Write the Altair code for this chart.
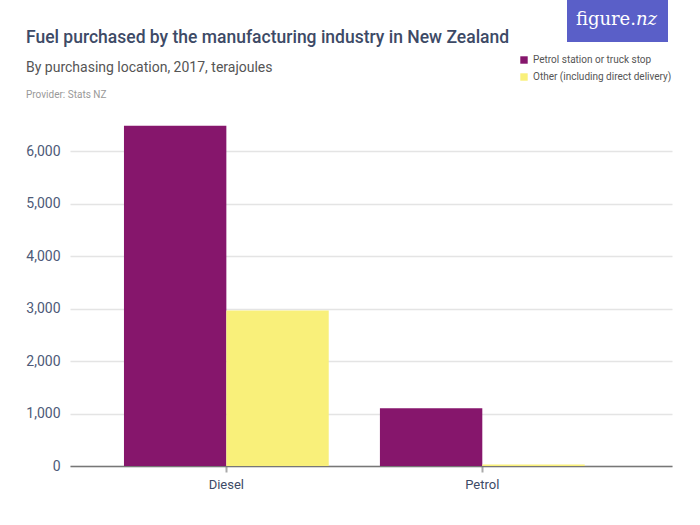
import altair as alt
import pandas as pd

# Fuel purchased by the manufacturing industry, 2017 (terajoules)
fuels = ["Diesel", "Diesel", "Petrol", "Petrol"]
locations = [
    "Petrol station or truck stop",
    "Other (including direct delivery)",
    "Petrol station or truck stop",
    "Other (including direct delivery)",
]
values = [6490, 2965, 1100, 30]

series_order = ["Petrol station or truck stop", "Other (including direct delivery)"]
series_colors = ["#86166c", "#f9f07a"]
y_ticks = [0, 1000, 2000, 3000, 4000, 5000, 6000]

df = pd.DataFrame({"fuel": fuels, "location": locations, "value": values})

FONT = "Roboto"
TEXT_DARK = "#3d4a66"

bars = alt.Chart(df).mark_bar().encode(
    x=alt.X(
        "fuel:N",
        title=None,
        scale=alt.Scale(paddingInner=0.2, paddingOuter=0.276, align=0.382),
        axis=alt.Axis(
            labelAngle=0,
            labelFont=FONT,
            labelFontSize=13,
            labelColor=TEXT_DARK,
            labelPadding=6,
            domainColor="#777777",
            domainWidth=1.5,
            tickColor="#aaaaaa",
            tickWidth=2,
            tickSize=6,
        ),
    ),
    xOffset=alt.XOffset("location:N", sort=series_order),
    y=alt.Y(
        "value:Q",
        title=None,
        scale=alt.Scale(domain=[0, 6600], nice=False),
        axis=alt.Axis(
            values=y_ticks,
            format=",.0f",
            labelFont=FONT,
            labelFontSize=14,
            labelColor="#4d5a78",
            labelPadding=10,
            domain=False,
            ticks=False,
            gridColor="#e4e4e4",
            gridWidth=1.5,
        ),
    ),
    color=alt.Color(
        "location:N",
        sort=series_order,
        scale=alt.Scale(domain=series_order, range=series_colors),
        legend=alt.Legend(
            title=None,
            orient="none",
            legendX=449,
            legendY=-65,
            symbolType="square",
            symbolSize=55,
            symbolStrokeWidth=0,
            labelFont=FONT,
            labelFontSize=10,
            labelColor="#555555",
            rowPadding=7,
            labelOffset=4,
        ),
    ),
)

header_text = [
    "Fuel purchased by the manufacturing industry in New Zealand",
    "By purchasing location, 2017, terajoules",
    "Provider: Stats NZ",
]

title = alt.Chart(pd.DataFrame({"text": [header_text[0]]})).mark_text(
    align="left", baseline="alphabetic", font=FONT, fontSize=17.5, fontWeight=500, color=TEXT_DARK
).encode(x=alt.value(-44), y=alt.value(-77), text="text:N")

subtitle = alt.Chart(pd.DataFrame({"text": [header_text[1]]})).mark_text(
    align="left", baseline="alphabetic", font=FONT, fontSize=14, color="#555555"
).encode(x=alt.value(-44), y=alt.value(-48), text="text:N")

provider = alt.Chart(pd.DataFrame({"text": [header_text[2]]})).mark_text(
    align="left", baseline="alphabetic", font=FONT, fontSize=10, color="#999999"
).encode(x=alt.value(-44), y=alt.value(-22), text="text:N")

# Brand badge
badge = alt.Chart(pd.DataFrame({"t": ["figure.nz"]})).mark_rect(color="#5a5fc8").encode(
    x=alt.value(497), x2=alt.value(598), y=alt.value(-125), y2=alt.value(-78)
)
badge_word = alt.Chart(pd.DataFrame({"t": ["figure."]})).mark_text(
    align="right", baseline="alphabetic", font="DejaVu Serif", fontSize=18, color="white"
).encode(x=alt.value(566), y=alt.value(-95), text="t:N")
badge_suffix = alt.Chart(pd.DataFrame({"t": ["nz"]})).mark_text(
    align="left", baseline="alphabetic", font="DejaVu Serif", fontSize=18,
    fontStyle="italic", color="white"
).encode(x=alt.value(566), y=alt.value(-95), text="t:N")

chart = alt.layer(bars, title, subtitle, provider, badge, badge_word, badge_suffix).properties(
    width=602,
    height=346,
    autosize=alt.AutoSizeParams(type="none"),
    padding={"left": 70, "top": 120, "right": 28, "bottom": 59},
).configure(background="white").configure_view(stroke=None)

chart.save("out.html", embed_options={"renderer": "svg", "actions": False})
